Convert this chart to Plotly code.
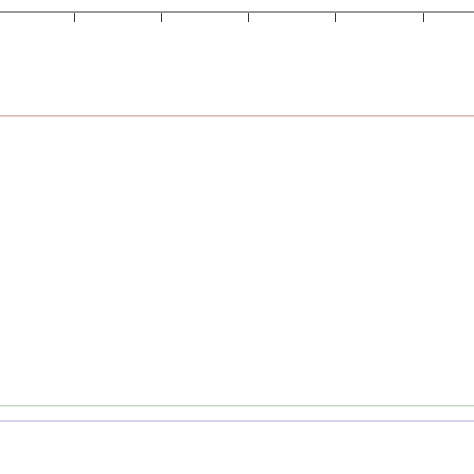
import plotly.graph_objects as go

# x positions and the three flat series
x_vals = [0, 1, 2, 3, 4, 5, 6]
tick_vals = [1, 2, 3, 4, 5]
red_vals = [77.7] * 7
green_vals = [14.8] * 7
blue_vals = [11.5] * 7

fig = go.Figure()
fig.add_trace(go.Scatter(x=x_vals, y=red_vals, mode="lines",
                         line=dict(color="#d09fa6", width=1.2)))
fig.add_trace(go.Scatter(x=x_vals, y=green_vals, mode="lines",
                         line=dict(color="#a2c69a", width=1.2)))
fig.add_trace(go.Scatter(x=x_vals, y=blue_vals, mode="lines",
                         line=dict(color="#a7a4d8", width=1.2)))

fig.update_layout(
    width=474, height=474,
    margin=dict(l=0, r=0, t=13, b=0),
    paper_bgcolor="white", plot_bgcolor="white",
    showlegend=False,
    xaxis=dict(side="top", range=[0.152, 5.584], tickvals=tick_vals,
               showticklabels=False, showgrid=False, zeroline=False,
               showline=True, linecolor="#999999", linewidth=2,
               ticks="inside", ticklen=9, tickcolor="#333333", tickwidth=1),
    yaxis=dict(range=[0, 100], visible=False),
)

# page body has a default margin, drop it so the plot fills the window
fig.write_html("out.html", config={"displayModeBar": False},
               post_script="document.body.style.margin='0px';")
